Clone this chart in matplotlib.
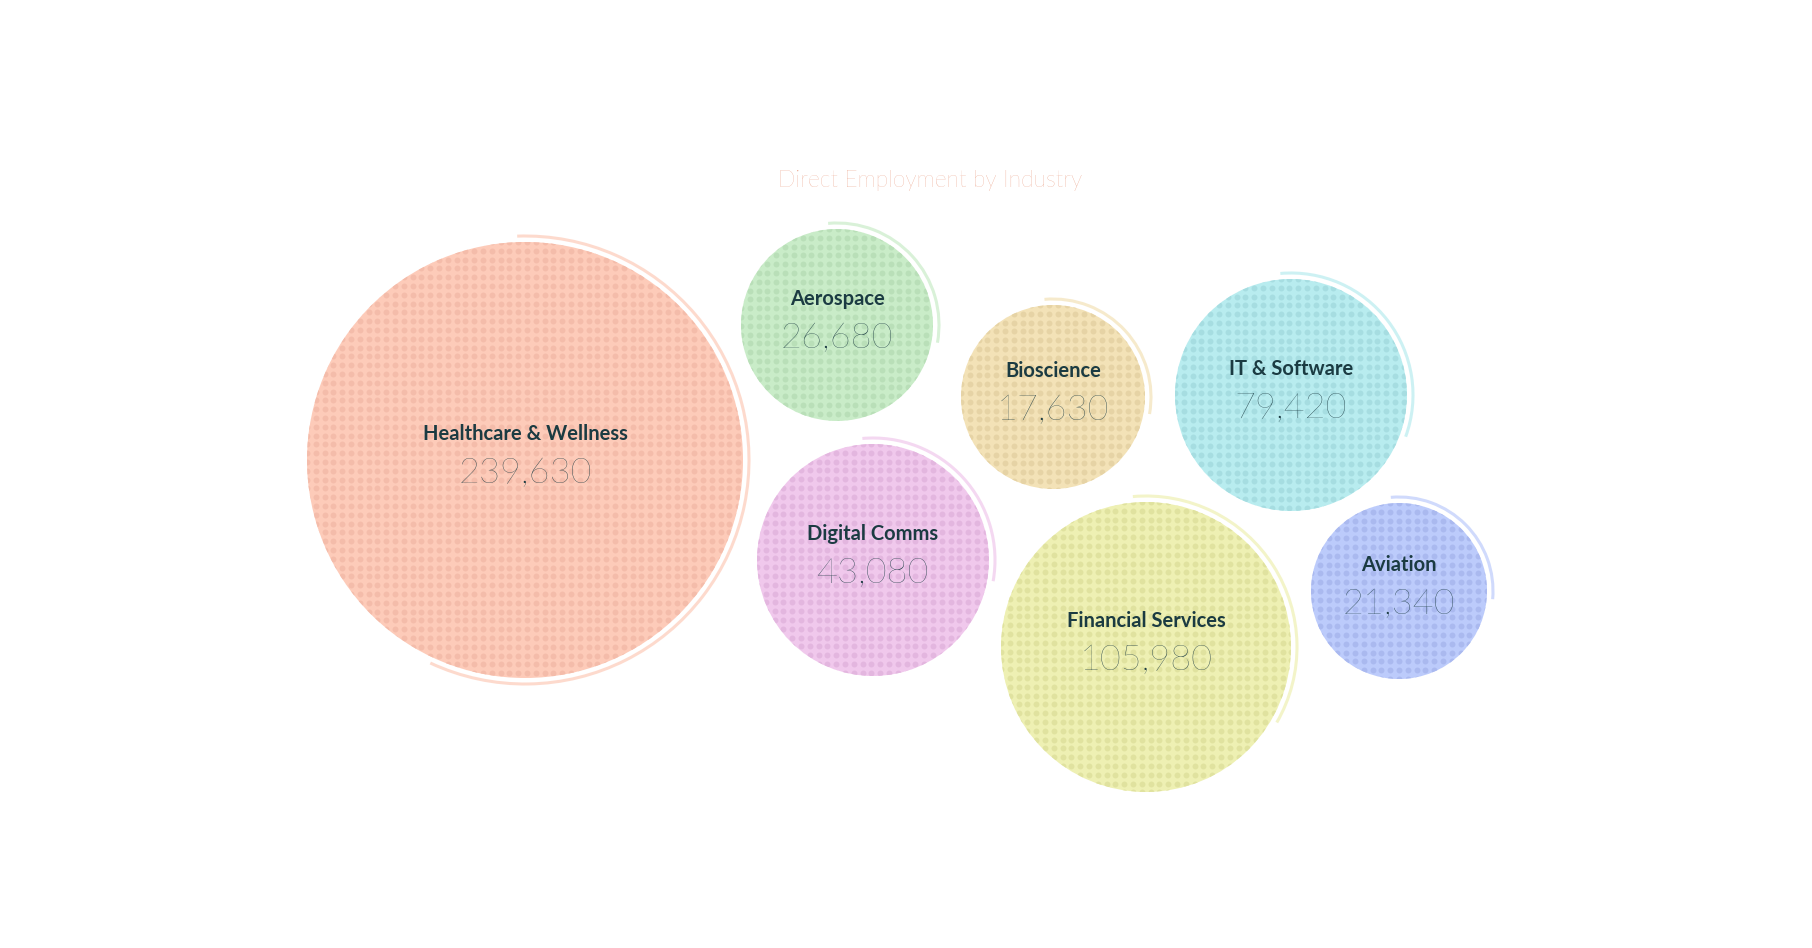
import numpy as np
import matplotlib.pyplot as plt
from matplotlib.patches import Circle, Arc

# data
industries = ["Healthcare & Wellness", "Aerospace", "Bioscience", "IT & Software",
              "Digital Comms", "Financial Services", "Aviation"]
employment = [239630, 26680, 17630, 79420, 43080, 105980, 21340]

# layout (pixels)
cx = [525, 837, 1053, 1291, 873, 1146, 1399]
cy = [460, 325, 397, 395, 560, 647, 591]
rad = [218, 96, 92, 116, 116, 145, 88]
fills = ["#fdcbb9", "#c9ecc8", "#f3e2b7", "#b8ecef", "#f0c8ec", "#eef0b3", "#bccbfb"]
dots = ["#f4bcaa", "#b9dfb8", "#e6d3a5", "#a6dde1", "#e3b6df", "#e0e29f", "#aab9ef"]
arc_span = [(-115, 92), (-10, 95), (-10, 95), (-20, 95), (-10, 95), (-30, 95), (-5, 95)]

W, H = 1812, 948
fig = plt.figure(figsize=(W / 100, H / 100), dpi=100)
ax = fig.add_axes([0, 0, 1, 1])
ax.set_xlim(0, W)
ax.set_ylim(H, 0)
ax.set_aspect("equal")
ax.axis("off")

txt = "#1b3b42"
ax.text(930, 180, "Direct Employment by Industry", ha="center", va="center",
        fontsize=16.5, color="#e8967a", family="Lato", fontweight="light")

step = 8.8
for i, name in enumerate(industries):
    x, y, r = cx[i], cy[i], rad[i]
    circ = Circle((x, y), r, facecolor=fills[i], edgecolor="none", zorder=1)
    ax.add_patch(circ)
    gx = np.arange(x - r, x + r + step, step)
    gy = np.arange(y - r, y + r + step, step)
    GX, GY = np.meshgrid(gx, gy)
    sc = ax.scatter(GX.ravel(), GY.ravel(), s=18, color=dots[i], linewidths=0, zorder=2)
    sc.set_clip_path(circ)
    # y axis is inverted, so angles flip sign
    a0, a1 = arc_span[i]
    ax.add_patch(Arc((x, y), 2 * (r + 6), 2 * (r + 6), theta1=-a1, theta2=-a0,
                     color=fills[i], lw=2.2, alpha=0.7, zorder=1))
    ax.text(x, y - 26, name, ha="center", va="center", fontsize=14.5,
            fontweight="bold", color=txt, family="Lato", zorder=3)
    ax.text(x, y + 13, f"{employment[i]:,}", ha="center", va="center", fontsize=26,
            fontweight="light", color=txt, family="Lato", zorder=3)

fig.savefig("out.png", dpi=100, facecolor="white")
